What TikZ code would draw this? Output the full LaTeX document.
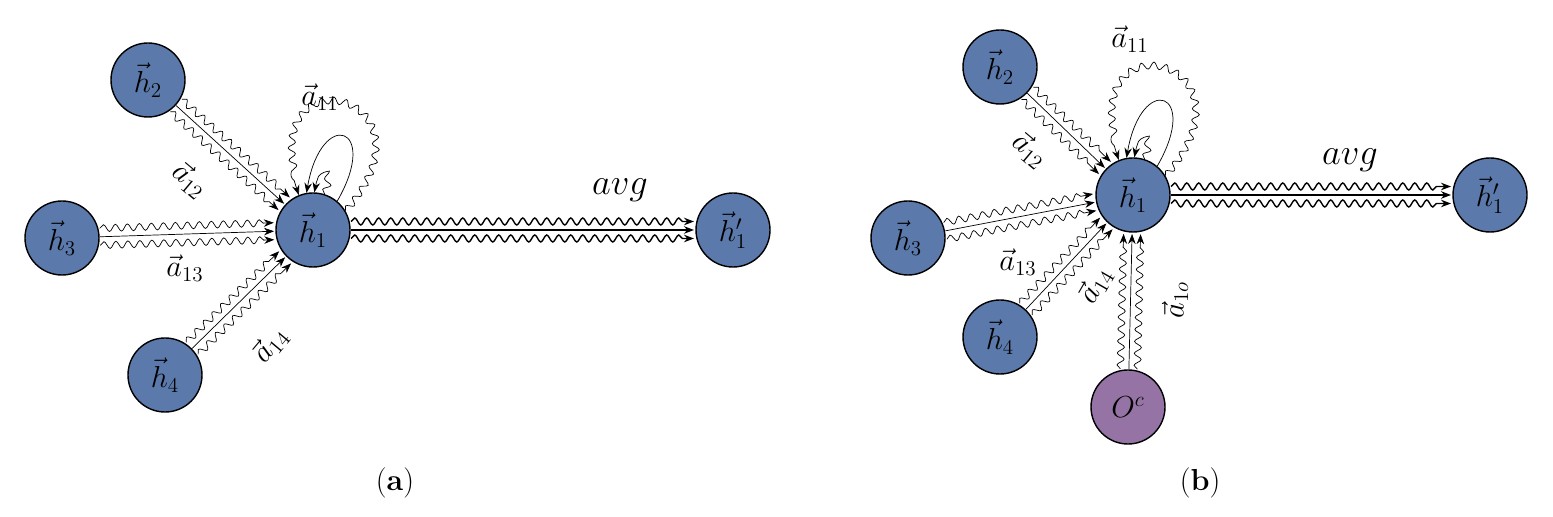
\documentclass[tikz,border=0pt]{standalone}
\usepackage{amsmath}
\usetikzlibrary{calc, decorations.pathmorphing, arrows.meta}

\definecolor{nodeblue}{RGB}{91,122,171}
\definecolor{nodepurple}{RGB}{150,115,165}

% one connector: straight arrow with a wavy arrow on each side
\newcommand\attedge[3][]{%
    \coordinate (s) at ($(#2)!0.76cm!(#3)$);
    \coordinate (e) at ($(#3)!0.78cm!(#2)$);
    \draw[line, #1] (s) -- (e);
    \draw[wavy, #1] ($(s)!0.17cm!90:(e)$) -- ($(e)!0.17cm!-90:(s)$);
    \draw[wavy, #1] ($(s)!0.17cm!-90:(e)$) -- ($(e)!0.17cm!90:(s)$);
}

\begin{document}
\begin{tikzpicture}[
    feat/.style={
        circle,
        draw,
        thick,
        fill=nodeblue,
        minimum size=1.48cm,
        inner sep=0pt,
        font=\LARGE
    },
    ctx/.style={
        feat,
        fill=nodepurple
    },
    line/.style={
        draw,
        -{Stealth[length=2mm]}
    },
    wavy/.style={
        line,
        decorate,
        decoration={snake, amplitude=0.7mm, segment length=2.4mm, post length=2mm}
    },
    lbl/.style={
        font=\LARGE
    }
]
\useasboundingbox (0,0) rectangle (31.06,10.34);

% Nodes (a)
\node [feat] (h2a) at (2.96,8.74) {$\vec h_2$};
\node [feat] (h3a) at (1.24,5.58) {$\vec h_3$};
\node [feat] (h1a) at (6.26,5.74) {$\vec h_1$};
\node [feat] (h4a) at (3.30,2.84) {$\vec h_4$};
\node [feat] (outa) at (14.66,5.74) {$\vec h_1'$};

% Nodes (b)
\node [feat] (h2b) at (20.0,9.0) {$\vec h_2$};
\node [feat] (h3b) at (18.16,5.58) {$\vec h_3$};
\node [feat] (h1b) at (22.66,6.44) {$\vec h_1$};
\node [feat] (h4b) at (20.0,3.6) {$\vec h_4$};
\node [ctx] (ocb) at (22.56,2.2) {$O^c$};
\node [feat] (outb) at (29.8,6.44) {$\vec h_1'$};

% Paths
\foreach \p in {a,b} {
    \attedge{h2\p}{h1\p}
    \attedge{h3\p}{h1\p}
    \attedge{h4\p}{h1\p}
    \attedge[thick]{h1\p}{out\p}
    % self loop
    \draw [line] (h1\p.50) to[out=60, in=80, looseness=7] (h1\p.100);
    \draw [wavy] (h1\p.30) to[out=50, in=110, looseness=8] (h1\p.112);
    \draw [wavy] (h1\p.72) to[out=70, in=85, looseness=6] (h1\p.88);
}
\attedge{ocb}{h1b}

% Labels
\node [lbl] (a11a) at (6.4,8.4) {$\vec a_{11}$};
\node [lbl, rotate=-40] (a12a) at (3.8,6.74) {$\vec a_{12}$};
\node [lbl] (a13a) at (3.7,4.98) {$\vec a_{13}$};
\node [lbl, rotate=50] (a14a) at (5.4,3.44) {$\vec a_{14}$};
\node [font=\huge] (avga) at (12.4,6.54) {$avg$};
\node [lbl] (a11b) at (22.6,9.56) {$\vec a_{11}$};
\node [lbl, rotate=-40] (a12b) at (20.6,7.34) {$\vec a_{12}$};
\node [lbl] (a13b) at (20.36,5.1) {$\vec a_{13}$};
\node [lbl, rotate=60] (a14b) at (21.9,4.64) {$\vec a_{14}$};
\node [lbl, rotate=90] (a1ob) at (23.5,4.34) {$\vec a_{1o}$};
\node [font=\huge] (avgb) at (27.0,7.14) {$avg$};

\node [font=\LARGE] (capa) at (7.9,0.68) {(\textbf{a})};
\node [font=\LARGE] (capb) at (24.0,0.68) {(\textbf{b})};

\end{tikzpicture}
\end{document}
